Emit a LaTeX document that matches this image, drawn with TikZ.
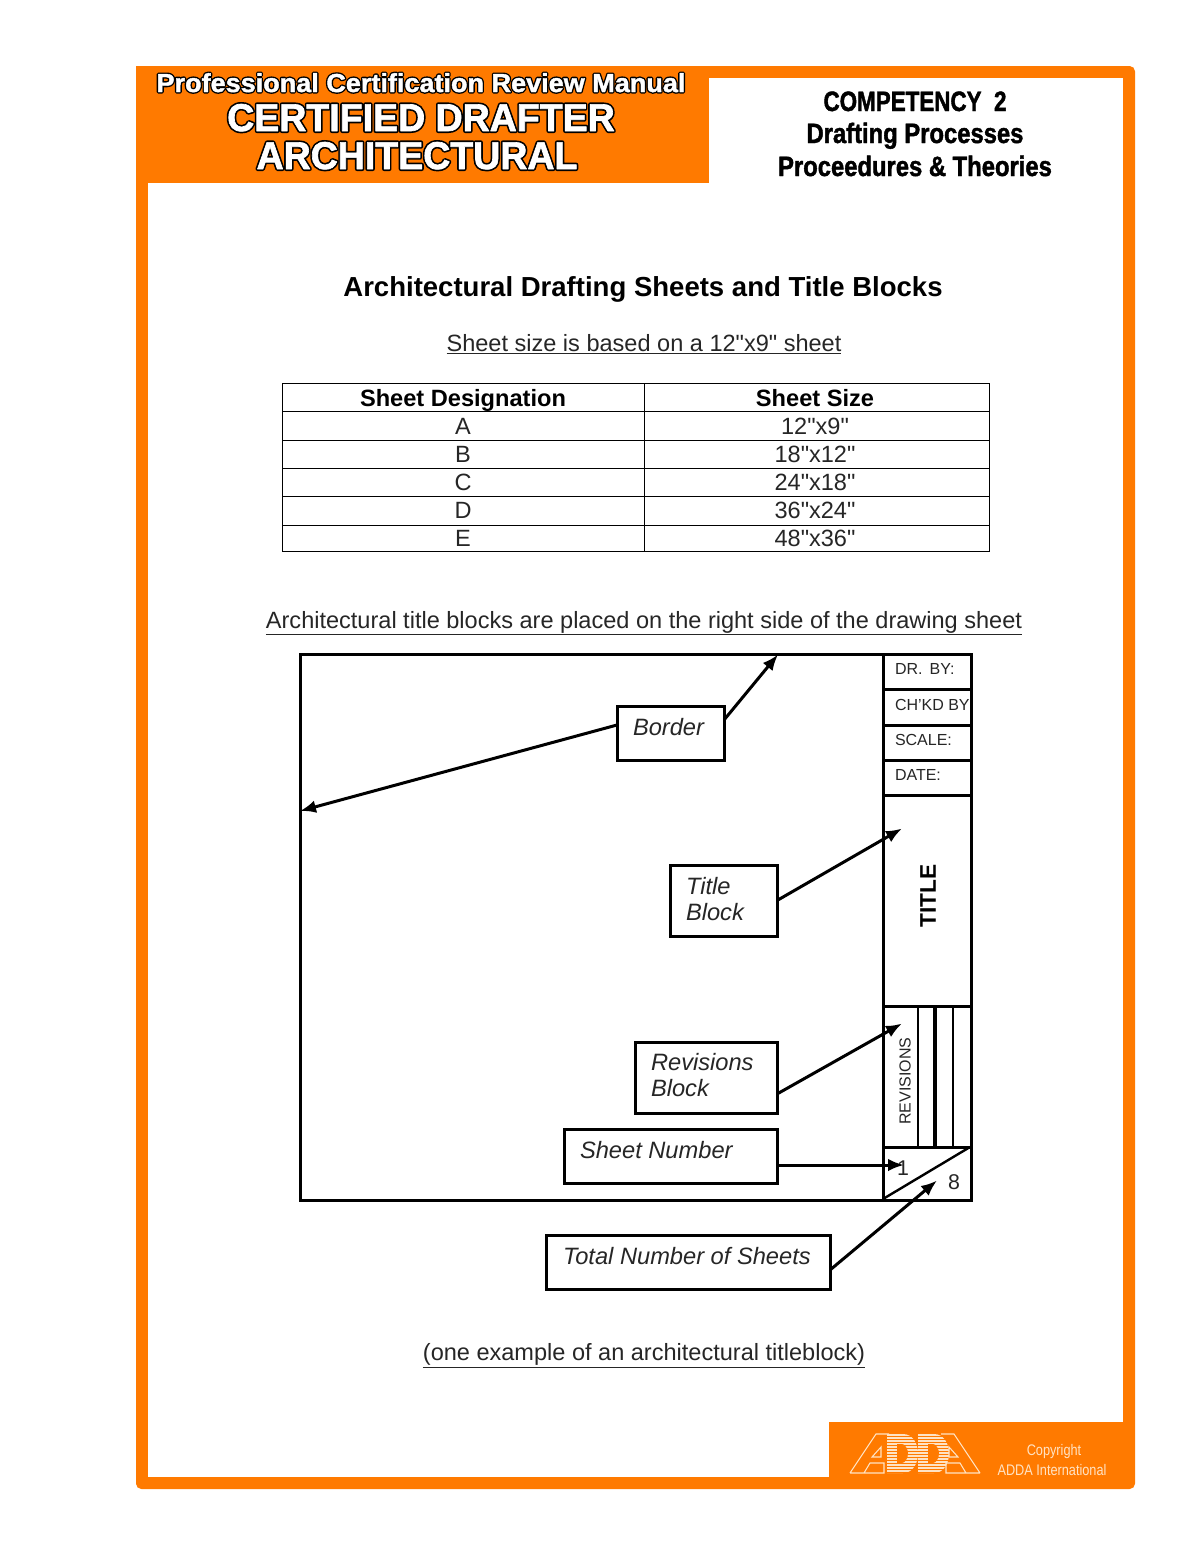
\documentclass[tikz,border=0pt]{standalone}
\usepackage{fontspec}
\setmainfont{Liberation Sans}
\newfontfamily\plainsans{Liberation Sans}
\newfontfamily\hdsmall[FakeStretch=1.04]{Liberation Sans Bold}
\newfontfamily\hdlarge[FakeStretch=0.97]{Liberation Sans Bold}
\newfontfamily\hdtwo[FakeStretch=0.85,FakeBold=1.5]{Liberation Sans Bold}
\newfontfamily\hdone[FakeStretch=0.8,FakeBold=1.5]{Liberation Sans Bold}
\newfontfamily\cpfont[FakeStretch=0.83]{Liberation Sans}
\usetikzlibrary{arrows.meta}
\definecolor{addaorange}{HTML}{FF7A00}
\definecolor{logopale}{HTML}{FFE3C4}
\newcommand{\fs}[2]{\fontsize{#1}{#2}\selectfont}
% outlined lettering: a black stroked layer under a white, slightly thickened one
\newcommand{\halo}[3]{\rlap{\color{black}\special{pdf:code q 2 Tr 0 0 0 RG #1 w 1 j}#3\special{pdf:code Q}}{\color{white}\special{pdf:code q 2 Tr 1 1 1 RG #2 w 1 j}#3\special{pdf:code Q}}}
\newcommand{\qq}{{\plainsans\char34\relax}}
\tikzset{
  x=0.75pt,y=-0.75pt,
  every node/.style={inner sep=0pt,outer sep=0pt},
  sheetline/.style={draw=black,line width=2.25pt},
  thinline/.style={draw=black,line width=0.7pt},
  callout/.style={draw=black,line width=2.25pt,anchor=north west},
  calltext/.style={anchor=west,align=left,font=\fs{17.75}{19.5}\itshape,text=black!85},
  tabletext/.style={anchor=base,font=\fs{17.65}{20},text=black!85},
  tablehead/.style={anchor=base,font=\fs{17.7}{20}\bfseries,text=black},
  smalltext/.style={font=\fs{12}{14},anchor=west,text=black!85},
  leader/.style={draw=black,line width=2.25pt,-{Latex[length=12pt,width=9.5pt]}},
  banner/.style={anchor=base},
  logoline/.style={draw=logopale,line width=0.8pt,line join=miter},
  stripe/.style={draw=logopale,line width=0.95pt},
}
\begin{document}
\begin{tikzpicture}
\useasboundingbox (0,0) rectangle (1200,1553);
% frame
\fill[addaorange,rounded corners=4pt] (136,66) rectangle (1135,1489);
\fill[white] (147.5,78) rectangle (1123,1477);
\fill[addaorange] (136,66) rectangle (709,183);
\fill[addaorange] (829,1422) rectangle (1123,1477);
% banner
\node[banner] (hb1) at (421,92) {\hdsmall\fs{19.5}{24}\halo{2.4}{0.3}{Professional Certification Review Manual}};
\node[banner] (hb2) at (421,131) {\hdlarge\fs{29}{36}\halo{3.0}{0.5}{CERTIFIED DRAFTER}};
\node[banner] (hb3) at (417,169) {\hdlarge\fs{29}{36}\halo{3.0}{0.5}{ARCHITECTURAL}};
\node[anchor=base] (hr1) at (915,111) {\hdone\fs{21}{24}COMPETENCY\ \ 2};
\node[anchor=base] (hr2) at (915,143) {\hdtwo\fs{21}{24}Drafting Processes};
\node[anchor=base] (hr3) at (915,176) {\hdtwo\fs{21}{24}Proceedures \& Theories};
% heading
\node[anchor=base,font=\fs{20.65}{24}\bfseries] (head) at (643,296) {Architectural Drafting Sheets and Title Blocks};
\node[tabletext] (sub1) at (644,351) {\underline{Sheet size is based on a 12\qq x9\qq\ sheet}};
% table
\draw[thinline] (282,383) rectangle (989,551);
\foreach \yy in {411,440,468,496,525} \draw[thinline] (282,\yy) -- (989,\yy);
\draw[thinline] (644,383) -- (644,551);
\node[tablehead] (t0a) at (463,406) {Sheet Designation};
\node[tablehead] (t0b) at (815,406) {Sheet Size};
\node[tabletext] (t1a) at (463,434) {A};
\node[tabletext] (t1b) at (815,434) {12\qq x9\qq};
\node[tabletext] (t2a) at (463,462) {B};
\node[tabletext] (t2b) at (815,462) {18\qq x12\qq};
\node[tabletext] (t3a) at (463,490) {C};
\node[tabletext] (t3b) at (815,490) {24\qq x18\qq};
\node[tabletext] (t4a) at (463,518) {D};
\node[tabletext] (t4b) at (815,518) {36\qq x24\qq};
\node[tabletext] (t5a) at (463,546) {E};
\node[tabletext] (t5b) at (815,546) {48\qq x36\qq};
\node[tabletext] (sub2) at (644,628) {\underline{Architectural title blocks are placed on the right side of the drawing sheet}};
% sheet
\draw[sheetline] (300,654) rectangle (971,1200);
\draw[sheetline] (883,654) -- (883,1200);
\foreach \yy in {689,725,760,795,1006,1147} \draw[sheetline] (883,\yy) -- (971,\yy);
\draw[sheetline,line width=1.7pt] (918,1006) -- (918,1147);
\draw[sheetline,line width=2.6pt] (935,1006) -- (935,1147);
\draw[sheetline,line width=1.7pt] (953,1006) -- (953,1147);
\draw[sheetline,line width=1.8pt] (883,1199) -- (970,1147);
\node[smalltext] (dr) at (895,669) {DR.\,\ BY:};
\node[smalltext] (ck) at (895,705) {CH'KD BY};
\node[smalltext] (sc) at (895,740) {SCALE:};
\node[smalltext] (da) at (895,775) {DATE:};
\node[rotate=90,font=\fs{17}{20}\bfseries] (ttl) at (928,896) {TITLE};
\node[rotate=90,font=\fs{12}{14},text=black!85] (rev) at (905,1081) {REVISIONS};
\node[font=\fs{16}{18},text=black!85] (n1) at (903,1168) {1};
\node[font=\fs{16}{18},text=black!85] (n8) at (954,1182) {8};
% callouts
\node[callout,minimum width=80.25pt,minimum height=40.5pt] (bbox) at (617,706) {};
\node[calltext] (btxt) at (633,727) {Border};
\node[callout,minimum width=80.25pt,minimum height=53.25pt] (tbox) at (670,865) {};
\node[calltext] (ttxt) at (686,899) {Title\\Block};
\node[callout,minimum width=106.5pt,minimum height=53.25pt] (rbox) at (635,1042) {};
\node[calltext] (rtxt) at (651,1075) {Revisions\\Block};
\node[callout,minimum width=159.75pt,minimum height=40.5pt] (nbox) at (564,1129) {};
\node[calltext] (ntxt) at (580,1150) {Sheet Number};
\node[callout,minimum width=213pt,minimum height=40.5pt] (sbox) at (546,1235) {};
\node[calltext] (stxt) at (563,1256) {Total Number of Sheets};
\coordinate (ab1) at (778,654.5);
\coordinate (ab2) at (300,811);
\coordinate (at) at (902,828.5);
\coordinate (ar) at (902,1023.5);
\coordinate (an) at (904,1165);
\coordinate (as) at (937,1180.5);
\draw[leader] (bbox.north east |- 0,720) -- (ab1);
\draw[leader] (bbox.north west |- 0,725) -- (ab2);
\draw[leader] (tbox.east) -- (at);
\draw[leader] (rbox.north east |- 0,1094) -- (ar);
\draw[leader] (nbox.north east |- 0,1165) -- (an);
\draw[leader] (sbox.north east |- 0,1270) -- (as);
\node[tabletext] (foot) at (644,1360) {\underline{(one example of an architectural titleblock)}};
% logo
\draw[logoline] (850,1473) -- (876,1434) -- (889,1434)
  (850,1473) -- (864,1473) -- (870,1463) -- (884,1463) -- (884,1473) -- (864,1473)
  (872,1457) -- (881,1447) -- (881,1457) -- cycle;
\draw[logoline] (980,1473) -- (954,1434) -- (941,1434)
  (980,1473) -- (966,1473) -- (960,1463) -- (946,1463) -- (946,1473) -- (966,1473)
  (958,1457) -- (949,1447) -- (949,1457) -- cycle;
\foreach \dx in {0,31} {
  \begin{scope}[shift={(\dx,0)}]
    \begin{scope}
      \clip (887,1434) -- (903,1434) .. controls (913,1434) and (918,1444) .. (918,1453.5)
        .. controls (918,1463) and (913,1473) .. (903,1473) -- (887,1473) -- cycle;
      \foreach \sy in {1435,1438,...,1474} \draw[stripe] (887,\sy) -- (919,\sy);
    \end{scope}
    \fill[addaorange] (897,1444) -- (902,1444) .. controls (905,1444) and (908,1449) .. (908,1453.5)
      .. controls (908,1458) and (905,1463) .. (902,1463) -- (897,1463) -- cycle;
  \end{scope}
}
\node[font=\cpfont\fs{11.5}{14},text=logopale] (cp1) at (1054,1452) {Copyright};
\node[font=\cpfont\fs{11.5}{14},text=logopale] (cp2) at (1052,1470) {ADDA International};
\end{tikzpicture}
\end{document}
